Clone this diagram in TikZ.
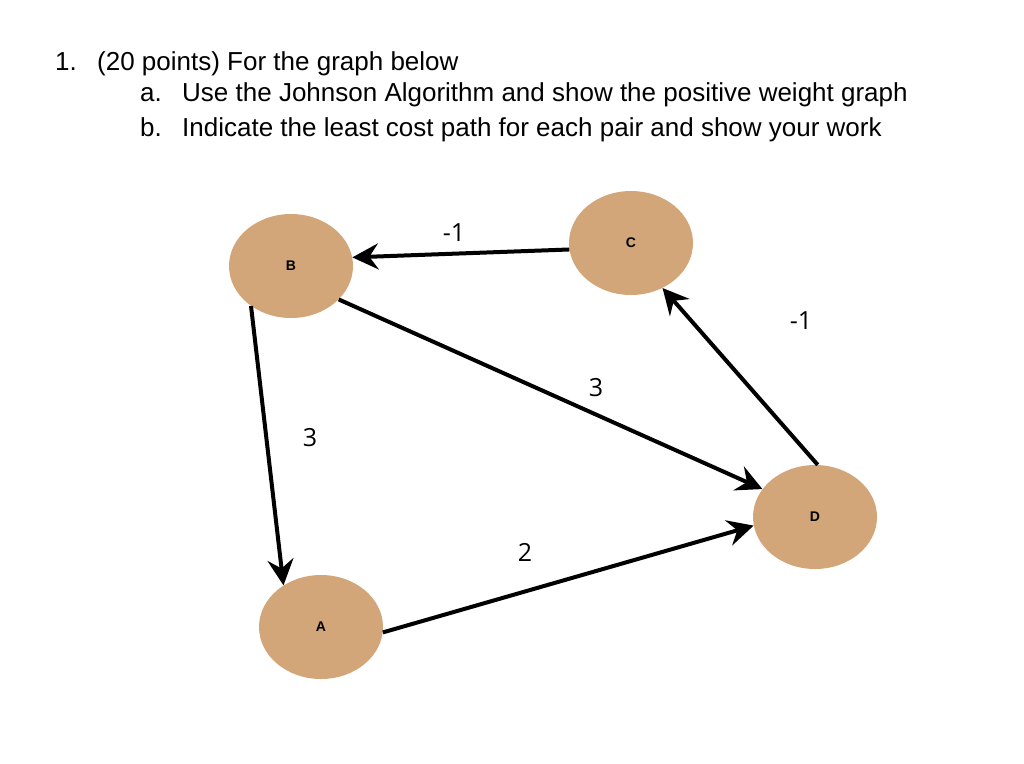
\documentclass[tikz,border=0pt]{standalone}
\usepackage{fontspec}
\setmainfont{Liberation Sans}
\newfontfamily\lbl{Open Sans}
\usetikzlibrary{arrows.meta,shapes.geometric}
\definecolor{tan}{RGB}{210,166,121}
\begin{document}
\begin{tikzpicture}[x=1pt,y=-1pt,
  vert/.style={ellipse,fill=tan,minimum width=124pt,minimum height=104pt,inner sep=0pt,font=\fontsize{14}{14}\selectfont\bfseries},
  edge/.style={line width=4pt,-{Stealth[length=26pt,width=26pt,inset=9pt]}},
  wl/.style={font=\lbl\fontsize{25}{25}\selectfont},
  hd/.style={anchor=base west,inner sep=0pt,font=\fontsize{26}{26}\selectfont}]
\useasboundingbox (0,0) rectangle (1024,763);
\node[hd] (h1) at (55,70) {1.};
\node[hd] (h2) at (97,70) {(20 points) For the graph below};
\node[hd] (ha) at (140,101) {a.};
\node[hd] (hat) at (182,101) {Use the Johnson Algorithm and show the positive weight graph};
\node[hd] (hb) at (140,136) {b.};
\node[hd] (hbt) at (182,136) {Indicate the least cost path for each pair and show your work};
\node[vert] (B) at (291,266) {B};
\node[vert] (C) at (631,243) {C};
\node[vert] (D) at (815,517) {D};
\node[vert] (A) at (321,627) {A};
\draw[edge] (C.186) -- (B.8);
\draw[edge] (B.-35) -- (D.152);
\draw[edge] (D.87) -- (C.-55);
\draw[edge] (B.-135) -- (A.132);
\draw[edge] (A.-5) -- (D.188);
\node[wl] (l1) at (454,233) {-1};
\node[wl] (l2) at (801,321) {-1};
\node[wl] (l3) at (596,388) {3};
\node[wl] (l4) at (310,438) {3};
\node[wl] (l5) at (525,552) {2};
\end{tikzpicture}
\end{document}
